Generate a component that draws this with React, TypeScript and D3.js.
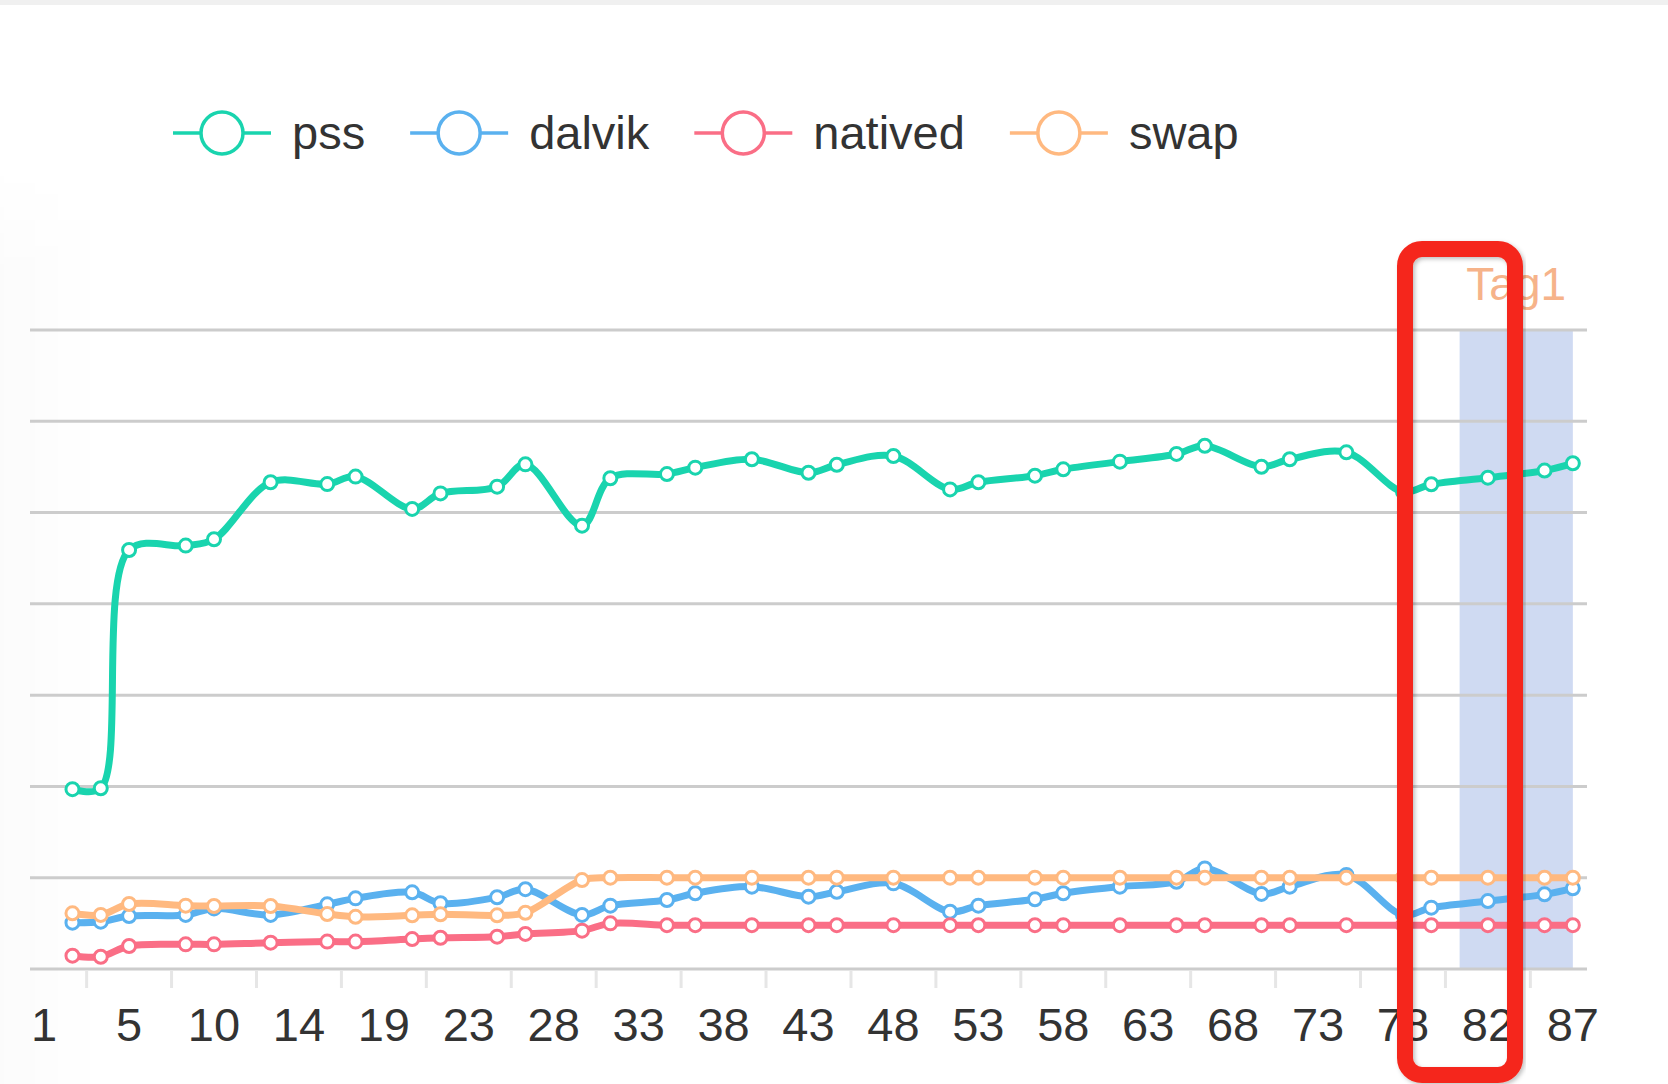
import * as d3 from 'd3'
import { useEffect, useRef } from 'react'

// x categories (sample index), label shown on every 3rd one
const categories = [
    '1', '2', '4', '5', '7', '8', '10', '11', '13', '14', '16', '17', '19', '20',
    '22', '23', '25', '26', '28', '30', '31', '33', '35', '36', '38', '40', '41',
    '43', '45', '46', '48', '50', '51', '53', '55', '56', '58', '60', '61', '63',
    '65', '66', '68', '70', '71', '73', '75', '76', '78', '79', '81', '82', '84',
    '85', '87',
]

const pss = [
    null, 98.5, 99, 229.5, null, 231.9, 235.4, null, 266.6, null, 265.6, 269.7,
    null, 252, 260.5, null, 264.2, 276.4, null, 242.8, 268.8, null, 271.1, 274.6,
    null, 279.2, null, 271.8, 276.2, null, 281, null, 262.7, 266.6, null, 270.2,
    273.7, null, 277.9, null, 282.1, 286.6, null, 275.1, 279.2, null, 283, null,
    261.4, 265.5, null, 269.1, null, 273, 277,
]

const dalvik = [
    null, 25.4, 25.9, 29.0, null, 29.6, 33.2, null, 29.6, null, 35.4, 38.7,
    null, 42.0, 36.0, null, 39.3, 43.7, null, 29.6, 34.7, null, 37.8, 41.5,
    null, 45.1, null, 39.6, 42.3, null, 46.9, null, 31.4, 34.7, null, 38.2,
    41.5, null, 45.1, null, 47.8, 55.1, null, 41.1, 45.1, null, 51.5, null,
    29.6, 33.6, null, 37.2, null, 40.9, 44.2,
]

const nativeD = [
    null, 7.3, 6.7, 12.6, null, 13.5, 13.5, null, 14.4, null, 15.0, 15.0,
    null, 16.4, 17.1, null, 17.7, 19.2, null, 21.0, 25.0, null, 24, 24,
    null, 24, null, 24, 24, null, 24, null, 24, 24, null, 24,
    24, null, 24, null, 24, 24, null, 24, 24, null, 24, null,
    24, 24, null, 24, null, 24, 24,
]

const swap = [
    null, 30.5, 29.6, 35.6, null, 34.7, 34.5, null, 34.5, null, 30.1, 28.6,
    null, 29.4, 30.0, null, 29.4, 30.8, null, 48.7, 50, null, 50, 50,
    null, 50, null, 50, 50, null, 50, null, 50, 50, null, 50,
    50, null, 50, null, 50, 50, null, 50, 50, null, 50, null,
    50, 50, null, 50, null, 50, 50,
]

const seriesNames = ['pss', 'dalvik', 'natived', 'swap']
const seriesColors = ['#19d4ae', '#5ab1ef', '#fa6e86', '#ffb980']

const markAreaRange = ['81', '87']
const markAreaLabel = 'Tag1'

export default function App() {
    const svgRef = useRef<SVGSVGElement>(null)
    const width = 1668
    const height = 1084

    useEffect(() => {
        if (!svgRef.current) return

        const svg = d3.select(svgRef.current)
        svg.selectAll('*').remove()

        const plot = { left: 30, right: 1587, top: 330, bottom: 969 }
        const font = '"Liberation Sans", Arial, Helvetica, sans-serif'
        const allSeries = [pss, dalvik, nativeD, swap]

        const defs = svg.append('defs')
        const shade = defs
            .append('linearGradient')
            .attr('id', 'leftShade')
            .attr('x1', 0)
            .attr('x2', 1)
        shade.append('stop').attr('offset', 0).attr('stop-color', '#000').attr('stop-opacity', 0.03)
        shade.append('stop').attr('offset', 1).attr('stop-color', '#000').attr('stop-opacity', 0)

        defs.append('filter')
            .attr('id', 'soft')
            .attr('x', '-50%')
            .attr('y', '-50%')
            .attr('width', '200%')
            .attr('height', '200%')
            .append('feGaussianBlur')
            .attr('stdDeviation', 40)

        const shadow = defs.append('filter').attr('id', 'boxShadow')
        shadow
            .append('feDropShadow')
            .attr('dx', 2)
            .attr('dy', 2)
            .attr('stdDeviation', 2)
            .attr('flood-color', '#000')
            .attr('flood-opacity', 0.25)

        // page background
        svg.append('rect').attr('width', width).attr('height', height).attr('fill', '#fff')
        svg.append('rect')
            .attr('x', -40)
            .attr('y', 220)
            .attr('width', 110)
            .attr('height', height)
            .attr('fill', 'url(#leftShade)')
            .attr('filter', 'url(#soft)')
        svg.append('rect').attr('width', width).attr('height', 5).attr('fill', '#f0f0f0')

        // scales
        const x = d3
            .scaleBand()
            .domain(categories)
            .range([plot.left, plot.right])
            .padding(0)
        const cx = (c: string) => (x(c) ?? 0) + x.bandwidth() / 2

        const y = d3.scaleLinear().domain([0, 350]).range([plot.bottom, plot.top])

        // mark area
        const areaX0 = cx(markAreaRange[0])
        const areaX1 = cx(markAreaRange[1])
        svg.append('rect')
            .attr('x', areaX0)
            .attr('y', plot.top)
            .attr('width', areaX1 - areaX0)
            .attr('height', plot.bottom - plot.top)
            .attr('fill', '#cfdaf2')

        svg.append('text')
            .attr('x', (areaX0 + areaX1) / 2)
            .attr('y', plot.top - 30)
            .attr('text-anchor', 'middle')
            .attr('font-family', font)
            .attr('font-size', 46)
            .attr('fill', '#f6b38a')
            .text(markAreaLabel)

        // grid lines
        svg.append('g')
            .selectAll('line')
            .data(y.ticks(7))
            .enter()
            .append('line')
            .attr('x1', plot.left)
            .attr('x2', plot.right)
            .attr('y1', (d) => y(d))
            .attr('y2', (d) => y(d))
            .attr('stroke', '#cccccc')
            .attr('stroke-width', 3)

        // x ticks sit on band boundaries, labels on every 3rd category
        const tickIdx = d3.range(2, categories.length, 3)
        svg.append('g')
            .selectAll('line')
            .data(tickIdx)
            .enter()
            .append('line')
            .attr('x1', (i) => x(categories[i]) ?? 0)
            .attr('x2', (i) => x(categories[i]) ?? 0)
            .attr('y1', plot.bottom + 2)
            .attr('y2', plot.bottom + 19)
            .attr('stroke', '#e6e6e6')
            .attr('stroke-width', 3)

        svg.append('g')
            .selectAll('text')
            .data(categories.filter((_, i) => i % 3 === 0))
            .enter()
            .append('text')
            .attr('x', (d) => cx(d))
            .attr('y', 1041)
            .attr('text-anchor', 'middle')
            .attr('font-family', font)
            .attr('font-size', 47)
            .attr('fill', '#333')
            .text((d) => d)

        // series
        allSeries.forEach((values, s) => {
            const pts = categories
                .map((c, i) => ({ c, v: values[i] }))
                .filter((d) => d.v != null) as { c: string; v: number }[]

            const line = d3
                .line<{ c: string; v: number }>()
                .x((d) => cx(d.c))
                .y((d) => y(d.v))
                .curve(d3.curveCatmullRom.alpha(0.5))

            svg.append('path')
                .datum(pts)
                .attr('d', line)
                .attr('fill', 'none')
                .attr('stroke', seriesColors[s])
                .attr('stroke-width', 7)
                .attr('stroke-linejoin', 'round')

            svg.append('g')
                .selectAll('circle')
                .data(pts)
                .enter()
                .append('circle')
                .attr('cx', (d) => cx(d.c))
                .attr('cy', (d) => y(d.v))
                .attr('r', 6.5)
                .attr('fill', '#fff')
                .attr('stroke', seriesColors[s])
                .attr('stroke-width', 3)
        })

        // legend
        const legend = svg.append('g').attr('transform', 'translate(173, 133)')
        let lx = 0
        seriesNames.forEach((name, s) => {
            const item = legend.append('g').attr('transform', `translate(${lx}, 0)`)
            item.append('line')
                .attr('x1', 0)
                .attr('x2', 98)
                .attr('stroke', seriesColors[s])
                .attr('stroke-width', 3.5)
            item.append('circle')
                .attr('cx', 49)
                .attr('r', 21)
                .attr('fill', '#fff')
                .attr('stroke', seriesColors[s])
                .attr('stroke-width', 3.5)
            const label = item
                .append('text')
                .attr('x', 119)
                .attr('y', 16)
                .attr('font-family', font)
                .attr('font-size', 47)
                .attr('fill', '#333')
                .text(name)
            const tw = (label.node() as SVGTextElement).getComputedTextLength()
            lx += 119 + tw + 45
        })

        // red highlight box drawn over the chart
        svg.append('rect')
            .attr('x', 1405)
            .attr('y', 249)
            .attr('width', 110)
            .attr('height', 826)
            .attr('rx', 17)
            .attr('fill', 'none')
            .attr('stroke', '#f5281c')
            .attr('stroke-width', 16)
            .attr('filter', 'url(#boxShadow)')
    }, [])

    return (
        <svg
            ref={svgRef}
            width={width}
            height={height}
            style={{ position: 'absolute', left: 0, top: 0 }}
        />
    )
}
